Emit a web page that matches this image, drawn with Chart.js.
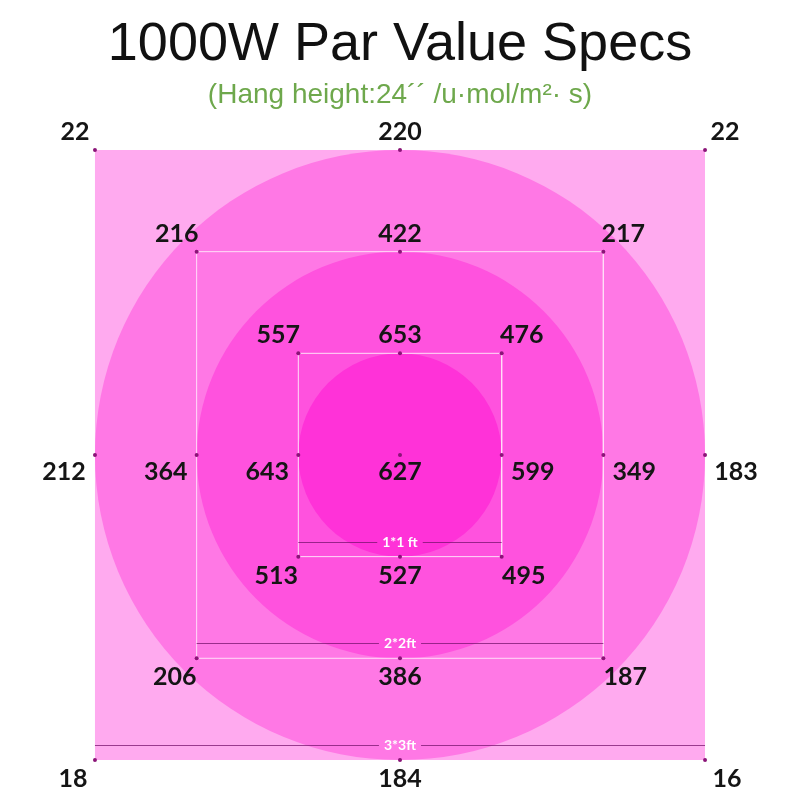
<!DOCTYPE html>
<html>
<head>
<meta charset="utf-8">
<script src="https://cdn.jsdelivr.net/npm/chart.js@4.4.0/dist/chart.umd.min.js"></script>
<style>
  html, body { margin: 0; padding: 0; background: #ffffff; overflow: hidden; }
  #wrap { width: 800px; height: 800px; }
</style>
</head>
<body>
<div id="wrap"><canvas id="par_chart"></canvas></div>
<script>
// square sides (ft), biggest first
const sizes = [3, 2, 1];
const spanLabels = ['3*3ft', '2*2ft', '1*1 ft'];

// PAR readings per square: TL, T, TR, L, R, BL, B, BR
const parOuter = [22, 220, 22, 212, 183, 18, 184, 16];
const parMiddle = [216, 422, 217, 364, 349, 206, 386, 187];
const parInner = [557, 653, 476, 643, 599, 513, 527, 495];
const parCenter = 627;

const squareFill = '#FFAAEF';
const circleColors = ['#FF78E5', '#FF52DE', '#FF32D8'];

// where each reading sits on its square (fraction of half side)
const spots = [[-1, 1], [0, 1], [1, 1], [-1, 0], [1, 0], [-1, -1], [0, -1], [1, -1]];
// label offsets in px for each spot
const labelOffset = [[-20, -18], [0, -18], [20, -18], [-31, 17], [31, 17], [-22, 19], [0, 19], [22, 19]];

const readings = [parOuter, parMiddle, parInner];
const dots = [];
readings.forEach((vals, i) => {
    const h = sizes[i] / 2;
    vals.forEach((v, k) => {
        dots.push({ x: spots[k][0] * h, y: spots[k][1] * h, v: v, spot: k });
    });
});
dots.push({ x: 0, y: 0, v: parCenter, spot: 8 });

function squarePath(s) {
    const h = s / 2;
    return [{ x: -h, y: h }, { x: h, y: h }, { x: h, y: -h }, { x: -h, y: -h }, { x: -h, y: h }];
}

function circleRadius(ctx) {
    const xs = ctx.chart.scales.x;
    const r = ctx.raw ? ctx.raw.r : 0;
    if (!xs) return 0;
    return xs.getPixelForValue(r) - xs.getPixelForValue(0);
}

const valueLabels = {
    id: 'valueLabels',
    afterDatasetsDraw(chart) {
        const ctx = chart.ctx;
        const xs = chart.scales.x, ys = chart.scales.y;

        // span lines with their text
        ctx.save();
        ctx.font = 'bold 14px Lato';
        ctx.textAlign = 'center';
        ctx.textBaseline = 'middle';
        sizes.forEach((s, i) => {
            const x1 = xs.getPixelForValue(-s / 2);
            const x2 = xs.getPixelForValue(s / 2);
            const y = Math.round(ys.getPixelForValue(-s / 2) - 15);
            const mid = (x1 + x2) / 2;
            const tw = ctx.measureText(spanLabels[i]).width / 2 + 5;
            ctx.strokeStyle = 'rgba(120, 20, 110, 0.75)';
            ctx.lineWidth = 1;
            ctx.beginPath();
            ctx.moveTo(x1, y + 0.5); ctx.lineTo(mid - tw, y + 0.5);
            ctx.moveTo(mid + tw, y + 0.5); ctx.lineTo(x2, y + 0.5);
            ctx.stroke();
            ctx.fillStyle = '#ffffff';
            ctx.fillText(spanLabels[i], mid, y);
        });

        // PAR numbers
        const meta = chart.getDatasetMeta(3);
        ctx.font = 'bold 25px Lato';
        ctx.fillStyle = '#151515';
        meta.data.forEach((pt, i) => {
            const d = chart.data.datasets[3].data[i];
            const off = d.spot === 8 ? [0, 17] : labelOffset[d.spot];
            ctx.fillText(String(d.v), pt.x + off[0], pt.y + off[1]);
        });
        ctx.restore();
    }
};

const config = {
    type: 'scatter',
    data: {
        datasets: [
            {
                // outer 3x3 square
                data: squarePath(sizes[0]),
                showLine: true,
                fill: 'shape',
                backgroundColor: squareFill,
                borderWidth: 0,
                pointRadius: 0,
                order: 5
            },
            {
                // light circles
                data: sizes.map(s => ({ x: 0, y: 0, r: s / 2 })),
                pointRadius: circleRadius,
                pointHoverRadius: circleRadius,
                pointBackgroundColor: circleColors,
                pointBorderWidth: 0,
                order: 4
            },
            {
                // 2x2 and 1x1 outlines
                data: squarePath(sizes[1]).concat([{ x: NaN, y: NaN }], squarePath(sizes[2])),
                showLine: true,
                spanGaps: false,
                borderColor: '#FFDDF8',
                borderWidth: 1,
                pointRadius: 0,
                fill: false,
                order: 3
            },
            {
                // measuring points
                data: dots,
                pointRadius: 2,
                pointBackgroundColor: '#8A1477',
                pointBorderWidth: 0,
                order: 1
            }
        ]
    },
    options: {
        responsive: true,
        maintainAspectRatio: false,
        animation: false,
        events: [],
        layout: { padding: 0, autoPadding: false },
        scales: {
            x: { display: false, min: -1.967, max: 1.967 },
            y: { display: false, min: -1.697, max: 1.685 }
        },
        plugins: {
            legend: { display: false },
            tooltip: { enabled: false },
            title: {
                display: true,
                text: '1000W Par Value Specs',
                color: '#111111',
                font: { family: 'Liberation Sans', size: 54, weight: 'normal' },
                padding: { top: 13, bottom: 0 }
            },
            subtitle: {
                display: true,
                text: '(Hang height:24\u00B4\u00B4 /u\u00B7mol/m\u00B2\u00B7 s)',
                color: '#6EA84C',
                font: { family: 'Liberation Sans', size: 28 },
                padding: { top: 1, bottom: 0 }
            }
        }
    },
    plugins: [valueLabels]
};

new Chart(document.getElementById('par_chart'), config);
</script>
</body>
</html>
